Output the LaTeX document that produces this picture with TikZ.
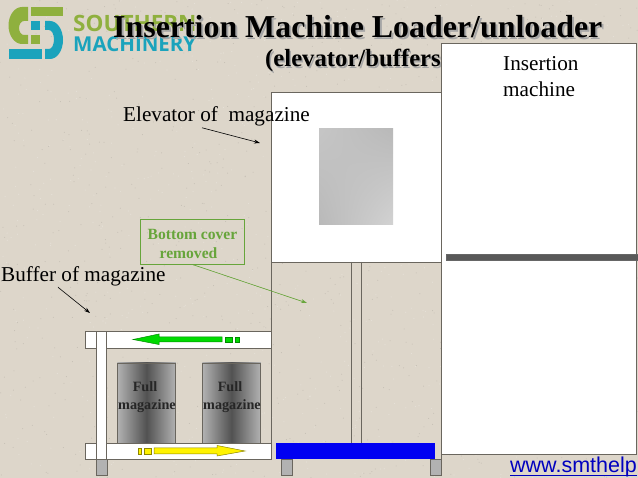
\documentclass[tikz,border=0pt]{standalone}
\usepackage{fontspec}
\setmainfont{Liberation Serif}
\newfontfamily\urlfont{Liberation Sans}
\newfontfamily\logofont{Open Sans}
\usepackage{tikz}
\usepackage{xcolor}
\usetikzlibrary{arrows.meta,shadings}
\definecolor{paper}{HTML}{DDD6CA}
\definecolor{edge}{HTML}{6A665E}
\definecolor{logogreen}{HTML}{8FB03E}
\definecolor{logoteal}{HTML}{1BA3BC}
\definecolor{notegreen}{HTML}{67A53B}
\tikzset{
  part/.style={draw=edge, fill=white, line width=0.9pt},
  foot/.style={draw=edge, fill=gray!60, line width=0.9pt},
  magazine/.style={draw=edge, line width=0.8pt, left color=gray!60, right color=gray!60, middle color=black!68},
  titletext/.style={font=\bfseries\fontsize{31.9}{32}\selectfont, anchor=base west, inner sep=0pt},
  subtext/.style={font=\bfseries\fontsize{24.7}{25}\selectfont, anchor=base west, inner sep=0pt},
  plaintext/.style={font=\fontsize{21.2}{26}\selectfont, anchor=base west, inner sep=0pt},
  maglabel/.style={font=\bfseries\fontsize{14.2}{18}\selectfont, align=center, inner sep=0pt, text=black!85},
  leader/.style={-{Stealth[length=6pt,width=4pt]}, line width=0.6pt}
}
\begin{document}
\begin{tikzpicture}[x=1pt,y=-1pt]
  \useasboundingbox (0,0) rectangle (638,478);
  \clip (0,0) rectangle (638,478);
  % Background
  \fill[paper] (0,0) rectangle (638,478);
  \pgfmathsetseed{7}
  \foreach \i in {1,...,900} {
    \fill[black!45!paper, opacity=0.25] (rnd*638,rnd*478) circle (0.5);
    \fill[white, opacity=0.25] (rnd*638,rnd*478) circle (0.6);
  }
  % Logo
  \fill[logogreen] (28,7) -- (22,7) arc (-90:-270:13.5 and 18.5) -- (28,44) -- (28,35) -- (24,35) arc (90:270:5 and 7) -- (28,21) -- cycle;
  \fill[logogreen] (31,7) rectangle (63,16);
  \fill[logogreen] (31,35) rectangle (40,44);
  \fill[logoteal] (31,21) rectangle (40,30);
  \fill[logoteal] (9,49) rectangle (42,59);
  \fill[logoteal] (45,21) -- (50,21) arc (-90:90:13 and 19) -- (45,59) -- (45,49) -- (49,49) arc (90:-90:5 and 9.5) -- (45,30) -- cycle;
  \node[anchor=base west, inner sep=0pt, text=logogreen, font=\logofont\bfseries\fontsize{22.5}{22}\selectfont] (logotop) at (73,32) {SOUTHERN};
  \node[anchor=base west, inner sep=0pt, text=logoteal, font=\logofont\bfseries\fontsize{20.5}{21}\selectfont] (logobottom) at (73,51.5) {MACHINERY};
  % Titles
  \node[titletext, text=gray!70] (titleshadow) at (115,40) {Insertion Machine Loader/unloader};
  \node[titletext] (title) at (113,38) {Insertion Machine Loader/unloader};
  \node[subtext, text=gray!70] (subshadow) at (266.5,68.5) {(elevator/buffers};
  \node[subtext] (sub) at (265,67) {(elevator/buffers};
  % Elevator
  \draw[part] (271,92) rectangle (441,262);
  \node[inner sep=0pt, minimum width=74pt, minimum height=96pt, shading=bilinear interpolation, upper left=gray!45, upper right=gray!55, lower left=gray!55, lower right=gray!35] (cover) at (356,177) {};
  % Frame below the elevator
  \draw[edge, line width=0.9pt] (271,262) -- (271,459);
  \draw[edge, line width=0.9pt] (441,262) -- (441,459);
  \draw[edge, line width=0.9pt] (351,262) -- (351,443);
  \draw[edge, line width=0.9pt] (361.5,262) -- (361.5,443);
  % Insertion machine
  \draw[part] (441.5,43) rectangle (636,454);
  \draw[draw=black!60, fill=black!65, line width=0.8pt] (446.5,254.5) rectangle (640,260);
  \node[plaintext] (machine) at (503,71) {Insertion};
  \node[plaintext] (machine2) at (503,97) {machine};
  % Feet and base
  \draw[foot] (96,459) rectangle (107,475.5);
  \draw[foot] (281.5,459) rectangle (292.5,475.5);
  \draw[foot] (430,459) rectangle (441,475.5);
  \fill[blue!95!black] (275.5,443) rectangle (435,459);
  % Buffer shelves
  \draw[part] (85,331) rectangle (271,348);
  \draw[part] (85,443) rectangle (271,459);
  \draw[part] (96,331) rectangle (106,459);
  % Magazines
  \node[magazine, minimum width=58.5pt, minimum height=80pt, inner sep=0pt] (magleft) at (146.5,403) {};
  \node[magazine, minimum width=58.5pt, minimum height=80pt, inner sep=0pt] (magright) at (231.5,403) {};
  \node[maglabel] (fullleft) at (147,397) {\hspace*{-4pt}Full\\magazine};
  \node[maglabel] (fullright) at (232,397) {\hspace*{-4pt}Full\\magazine};
  % Block arrows
  \filldraw[draw=green!55!black, fill=green!85!black, line width=0.5pt] (222,337) -- (159,337) -- (159,334) -- (133,339.5) -- (159,344.5) -- (159,342) -- (222,342) -- cycle;
  \filldraw[draw=green!55!black, fill=green!85!black, line width=0.5pt] (225,337) rectangle (232,342);
  \filldraw[draw=green!55!black, fill=green!85!black, line width=0.5pt] (235,337) rectangle (239,342);
  \filldraw[draw=olive, fill=yellow, line width=0.5pt] (154,448) -- (217,448) -- (217,445.5) -- (245,451) -- (217,456) -- (217,454) -- (154,454) -- cycle;
  \filldraw[draw=olive, fill=yellow, line width=0.5pt] (144,448) rectangle (151.5,454);
  \filldraw[draw=olive, fill=yellow, line width=0.5pt] (138,448) rectangle (141.5,454);
  % Labels with leaders
  \node[plaintext] (elevator) at (123,122) {Elevator of\ \ magazine};
  \coordinate (elevatorend) at (260,143);
  \draw[leader] ([xshift=79pt,yshift=-1pt]elevator.south west) -- (elevatorend);
  \node[plaintext] (buffer) at (1,281.5) {Buffer of magazine};
  \coordinate (bufferend) at (90,313);
  \draw[leader] ([xshift=57pt,yshift=-1pt]buffer.south west) -- (bufferend);
  \node[draw=notegreen, line width=0.7pt, minimum width=104pt, minimum height=45pt, inner sep=0pt] (note) at (192,241.5) {};
  \node[text=notegreen, inner sep=0pt, align=center, font=\bfseries\fontsize{15.6}{19}\selectfont] (notetext) at (192.5,243.5) {Bottom cover\\\hspace*{-8pt}removed};
  \coordinate (noteend) at (307,303);
  \draw[leader, draw=notegreen, fill=notegreen] (note.south) -- (noteend);
  % Web address
  \node[anchor=base west, inner sep=0pt, text=blue!75!black, font=\urlfont\fontsize{21.5}{22}\selectfont] (web) at (510,472.5) {www.smthelp};
  \draw[blue!75!black, line width=1pt] ([yshift=-3.2pt]web.base west) -- ([yshift=-3.2pt]web.base east);
\end{tikzpicture}
\end{document}
